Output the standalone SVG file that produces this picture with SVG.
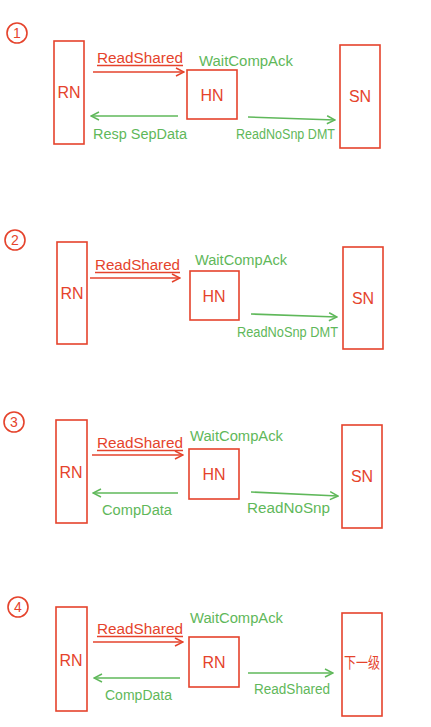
<svg xmlns="http://www.w3.org/2000/svg" width="431" height="727" viewBox="0 0 431 727">
<style>
.box{fill:none;stroke:#e5432c;stroke-width:1.6}
.num{fill:none;stroke:#e5432c;stroke-width:1.6}
.nt{font-family:"Liberation Sans",sans-serif;font-size:14px;fill:#e5432c;text-anchor:middle}
.lab{font-family:"Liberation Sans","Noto Sans CJK SC",sans-serif;font-size:16px;fill:#e5432c;text-anchor:middle}
.r{stroke:#e5432c;stroke-width:1.6;fill:none}
.g{stroke:#5fb85a;stroke-width:1.6;fill:none}
.rt{font-family:"Liberation Sans",sans-serif;font-size:14px;fill:#e5432c}
.gt{font-family:"Liberation Sans",sans-serif;font-size:14px;fill:#5fb85a}
</style>
<defs>
<marker id="ar" viewBox="0 0 10 10" refX="9" refY="5" markerWidth="10" markerHeight="10" markerUnits="userSpaceOnUse" orient="auto"><path d="M1,1 L9,5 L1,9" fill="none" stroke="#e5432c" stroke-width="1.5"/></marker>
<marker id="ag" viewBox="0 0 10 10" refX="9" refY="5" markerWidth="10" markerHeight="10" markerUnits="userSpaceOnUse" orient="auto"><path d="M1,1 L9,5 L1,9" fill="none" stroke="#5fb85a" stroke-width="1.5"/></marker>
</defs>

<g id="panel1">
<g id="n1"><circle class="num" cx="17" cy="33" r="10"/><text class="nt" x="17" y="38">1</text></g>
<g id="rn1"><rect class="box" x="54" y="41" width="30" height="103"/><text class="lab" x="69" y="98">RN</text></g>
<g id="hn1"><rect class="box" x="187" y="70" width="50" height="49"/><text class="lab" x="212" y="101">HN</text></g>
<g id="sn1"><rect class="box" x="340" y="45" width="40" height="103"/><text class="lab" x="360" y="102">SN</text></g>
</g>
<g id="panel2">
<g id="n2"><circle class="num" cx="15" cy="240" r="10"/><text class="nt" x="15" y="245">2</text></g>
<g id="rn2"><rect class="box" x="57" y="242" width="30" height="102"/><text class="lab" x="72" y="299">RN</text></g>
<g id="hn2"><rect class="box" x="190" y="271" width="49" height="49"/><text class="lab" x="214" y="302">HN</text></g>
<g id="sn2"><rect class="box" x="343" y="247" width="40" height="102"/><text class="lab" x="363" y="304">SN</text></g>
</g>
<g id="panel3">
<g id="n3"><circle class="num" cx="14" cy="422" r="10"/><text class="nt" x="14" y="427">3</text></g>
<g id="rn3"><rect class="box" x="56" y="420" width="31" height="103"/><text class="lab" x="71" y="478">RN</text></g>
<g id="hn3"><rect class="box" x="189" y="449" width="50" height="50"/><text class="lab" x="214" y="480">HN</text></g>
<g id="sn3"><rect class="box" x="342" y="425" width="40" height="103"/><text class="lab" x="362" y="482">SN</text></g>
</g>
<g id="panel4">
<g id="n4"><circle class="num" cx="18" cy="607" r="10"/><text class="nt" x="18" y="612">4</text></g>
<g id="rn4"><rect class="box" x="56" y="607" width="31" height="104"/><text class="lab" x="71" y="666">RN</text></g>
<g id="rn4b"><rect class="box" x="189" y="637" width="50" height="50"/><text class="lab" x="214" y="668">RN</text></g>
<g id="next4"><rect class="box" x="342" y="613" width="40" height="103"/><text class="lab" x="362" y="668" style="font-size:15px" textLength="36" lengthAdjust="spacingAndGlyphs">下一级</text></g>
</g>

<g id="connectors">
<line class="r" x1="93" y1="72" x2="184" y2="72" marker-end="url(#ar)"/>
<line class="g" x1="178" y1="116" x2="91" y2="116" marker-end="url(#ag)"/>
<line class="g" x1="248" y1="117" x2="335" y2="120" marker-end="url(#ag)"/>
<line class="r" x1="90" y1="278" x2="180" y2="278" marker-end="url(#ar)"/>
<line class="g" x1="251" y1="314" x2="337" y2="317" marker-end="url(#ag)"/>
<line class="r" x1="92" y1="455" x2="183" y2="455" marker-end="url(#ar)"/>
<line class="g" x1="178" y1="493" x2="93" y2="493" marker-end="url(#ag)"/>
<line class="g" x1="251" y1="492" x2="338" y2="496" marker-end="url(#ag)"/>
<line class="r" x1="93" y1="642" x2="183" y2="642" marker-end="url(#ar)"/>
<line class="g" x1="180" y1="678" x2="94" y2="678" marker-end="url(#ag)"/>
<line class="g" x1="248" y1="673" x2="333" y2="673" marker-end="url(#ag)"/>
</g>

<g id="labels">
<text class="rt" x="97" y="63" textLength="86" lengthAdjust="spacingAndGlyphs">ReadShared</text>
<line class="r" x1="97" y1="65.5" x2="183" y2="65.5" stroke-width="1.2"/>
<text class="gt" x="199" y="66" textLength="94" lengthAdjust="spacingAndGlyphs">WaitCompAck</text>
<text class="gt" x="93" y="139" textLength="94" lengthAdjust="spacingAndGlyphs">Resp SepData</text>
<text class="gt" x="236" y="139" textLength="99" lengthAdjust="spacingAndGlyphs">ReadNoSnp DMT</text>

<text class="rt" x="95" y="270" textLength="85" lengthAdjust="spacingAndGlyphs">ReadShared</text>
<line class="r" x1="95" y1="272.5" x2="180" y2="272.5" stroke-width="1.2"/>
<text class="gt" x="195" y="265" textLength="92" lengthAdjust="spacingAndGlyphs">WaitCompAck</text>
<text class="gt" x="237" y="337" textLength="101" lengthAdjust="spacingAndGlyphs">ReadNoSnp DMT</text>

<text class="rt" x="97" y="448" textLength="86" lengthAdjust="spacingAndGlyphs">ReadShared</text>
<line class="r" x1="97" y1="450.5" x2="183" y2="450.5" stroke-width="1.2"/>
<text class="gt" x="190" y="441" textLength="93" lengthAdjust="spacingAndGlyphs">WaitCompAck</text>
<text class="gt" x="102" y="515" textLength="70" lengthAdjust="spacingAndGlyphs">CompData</text>
<text class="gt" x="247" y="513" textLength="83" lengthAdjust="spacingAndGlyphs">ReadNoSnp</text>

<text class="rt" x="97" y="634" textLength="86" lengthAdjust="spacingAndGlyphs">ReadShared</text>
<line class="r" x1="97" y1="636.5" x2="183" y2="636.5" stroke-width="1.2"/>
<text class="gt" x="190" y="623" textLength="93" lengthAdjust="spacingAndGlyphs">WaitCompAck</text>
<text class="gt" x="105" y="700" textLength="67" lengthAdjust="spacingAndGlyphs">CompData</text>
<text class="gt" x="254" y="694" textLength="76" lengthAdjust="spacingAndGlyphs">ReadShared</text>
</g>
</svg>
